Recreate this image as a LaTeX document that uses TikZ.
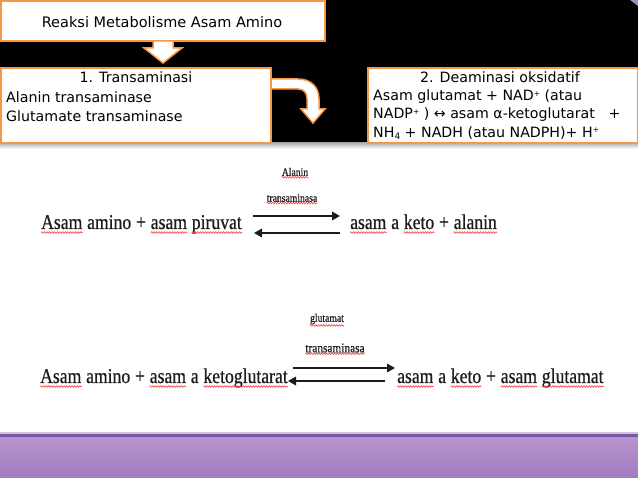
\documentclass[tikz,border=0pt]{standalone}
\usepackage{fontspec}
\setmainfont{Liberation Serif}
\newfontfamily\boxfont{DejaVu Sans}
\newfontfamily\rxfont[FakeStretch=0.84,FakeBold=0.6]{Liberation Serif}
\usetikzlibrary{arrows.meta,decorations.pathmorphing}
\definecolor{orng}{HTML}{F79646}
\definecolor{ink}{HTML}{1C1C1C}
\definecolor{purtop}{HTML}{B594CC}
\definecolor{purbot}{HTML}{A27BC0}
\definecolor{purline}{HTML}{7B58A2}
\newcommand\sps[1]{\raisebox{4.5pt}{\fontsize{7.5}{8}\selectfont #1}}
\newcommand\sbs[1]{\raisebox{-2.5pt}{\fontsize{9}{9}\selectfont #1}}
\tikzset{
  obox/.style={draw=orng, line width=1.6pt, fill=white, inner sep=0pt},
  btxt/.style={font=\boxfont\fontsize{14.2}{16}\selectfont, inner sep=0pt, text=black},
  wd/.style={font=\rxfont\fontsize{21}{24}\selectfont, inner sep=0pt, text=ink, anchor=base west},
  lbl/.style={font=\rxfont\fontsize{11.5}{13}\selectfont, inner sep=0pt, text=ink},
  rx/.style={draw=ink, line width=1.7pt, -{Triangle[length=8pt,width=8.5pt]}},
  barrow/.style={draw=orng, line width=1.5pt, fill=white, line join=miter},
  wave/.style={draw=red!75, line width=0.6pt, decorate, decoration={snake, amplitude=0.8pt, segment length=2.6pt}}
}
\newcommand\nxt[3]{\node[wd] (#1) at ([xshift=4.4pt]#2.base east) {#3};}
\newcommand\wv[1]{\draw[wave] ([yshift=-3.5pt]#1.base west) -- ([yshift=-3.5pt]#1.base east);}
\newcommand\wvl[1]{\draw[wave] ([yshift=-1pt]#1.south west) -- ([yshift=-1pt]#1.south east);}
\begin{document}
\begin{tikzpicture}[x=1pt,y=-1pt]
\useasboundingbox (0,0) rectangle (638,478);
% backgrounds
\fill[white] (0,0) rectangle (638,478);
\fill[black] (0,0) rectangle (638,143);
\fill[purline!70] (630,0) -- (638,0) -- (638,6) -- cycle;
\shade[top color=gray!60, bottom color=white] (0,143) rectangle (638,149);
\fill[purline!35] (0,432) rectangle (638,434);
\fill[purline] (0,434) rectangle (638,437.5);
\shade[top color=purtop, bottom color=purbot] (0,437.5) rectangle (638,478);
% top box
\node[obox, minimum width=324pt, minimum height=40pt] (b0) at (163,21) {};
\node[btxt, font=\boxfont\fontsize{14.5}{17}\selectfont] (t0) at (162,22) {Reaksi Metabolisme Asam Amino};
% down arrow
\path[barrow] (153,41) -- (173,41) -- (173,48) -- (182,48) -- (163,63) -- (144,48) -- (153,48) -- cycle;
% box 1
\node[obox, minimum width=270pt, minimum height=75pt] (b1) at (136,105.5) {};
\node[btxt] (t1) at (136,77) {1. Transaminasi};
\node[btxt, anchor=west] (t1a) at (6,97) {Alanin transaminase};
\node[btxt, anchor=west] (t1b) at (6,116) {Glutamate transaminase};
% box 2
\node[obox, minimum width=270pt, minimum height=75pt] (b2) at (503,105.5) {};
\node[btxt] (t2) at (500,77) {2. Deaminasi oksidatif};
\node[btxt, anchor=west] (t2a) at (373,97) {Asam glutamat + NAD\sps{+} (atau};
\node[btxt, anchor=west] (t2b) at (373,115) {NADP\sps{+} ) ↔ asam α-ketoglutarat \ \ +};
\node[btxt, anchor=west] (t2c) at (373,133) {NH\sbs{4} + NADH (atau NADPH)+ H\sps{+}};
% curved arrow
\path[barrow] (271,79) -- (298,79) .. controls (311,79) and (319,87) .. (319,99) -- (319,109) -- (325,109) -- (313,123) -- (301,109) -- (307,109) -- (307,99) .. controls (307,93) and (304,89) .. (298,89) -- (271,89) -- cycle;
% reaction 1
\node[wd] (a1) at (41,229) {Asam};
\nxt{a2}{a1}{amino}\nxt{a3}{a2}{+}\nxt{a4}{a3}{asam}\nxt{a5}{a4}{piruvat}
\wv{a1}\wv{a4}\wv{a5}
\node[wd] (b1w) at (350,229) {asam};
\nxt{b2w}{b1w}{a}\nxt{b3w}{b2w}{keto}\nxt{b4w}{b3w}{+}\nxt{b5w}{b4w}{alanin}
\wv{b1w}\wv{b3w}\wv{b5w}
\node[lbl] (e1a) at (295,172) {Alanin};
\node[lbl] (e1b) at (292,198) {transaminasa};
\wvl{e1a}\wvl{e1b}
\coordinate (u1a) at (253,216);
\coordinate (u1b) at (340,216);
\coordinate (l1a) at (340,233);
\coordinate (l1b) at (254,233);
\draw[rx] (u1a) -- (u1b);
\draw[rx] (l1a) -- (l1b);
% reaction 2
\node[wd] (c1) at (40,383) {Asam};
\nxt{c2}{c1}{amino}\nxt{c3}{c2}{+}\nxt{c4}{c3}{asam}\nxt{c5}{c4}{a}\nxt{c6}{c5}{ketoglutarat}
\wv{c1}\wv{c4}\wv{c6}
\node[wd] (d1) at (397,383) {asam};
\nxt{d2}{d1}{a}\nxt{d3}{d2}{keto}\nxt{d4}{d3}{+}\nxt{d5}{d4}{asam}\nxt{d6}{d5}{glutamat}
\wv{d1}\wv{d3}\wv{d5}\wv{d6}
\node[lbl] (e2a) at (327,319) {glutamat};
\node[lbl, font=\rxfont\fontsize{13.5}{15}\selectfont] (e2b) at (335,348) {transaminasa};
\wvl{e2a}\wvl{e2b}
\coordinate (u2a) at (293,368);
\coordinate (u2b) at (395,368);
\coordinate (l2a) at (385,381);
\coordinate (l2b) at (288,381);
\draw[rx] (u2a) -- (u2b);
\draw[rx] (l2a) -- (l2b);
\end{tikzpicture}
\end{document}
